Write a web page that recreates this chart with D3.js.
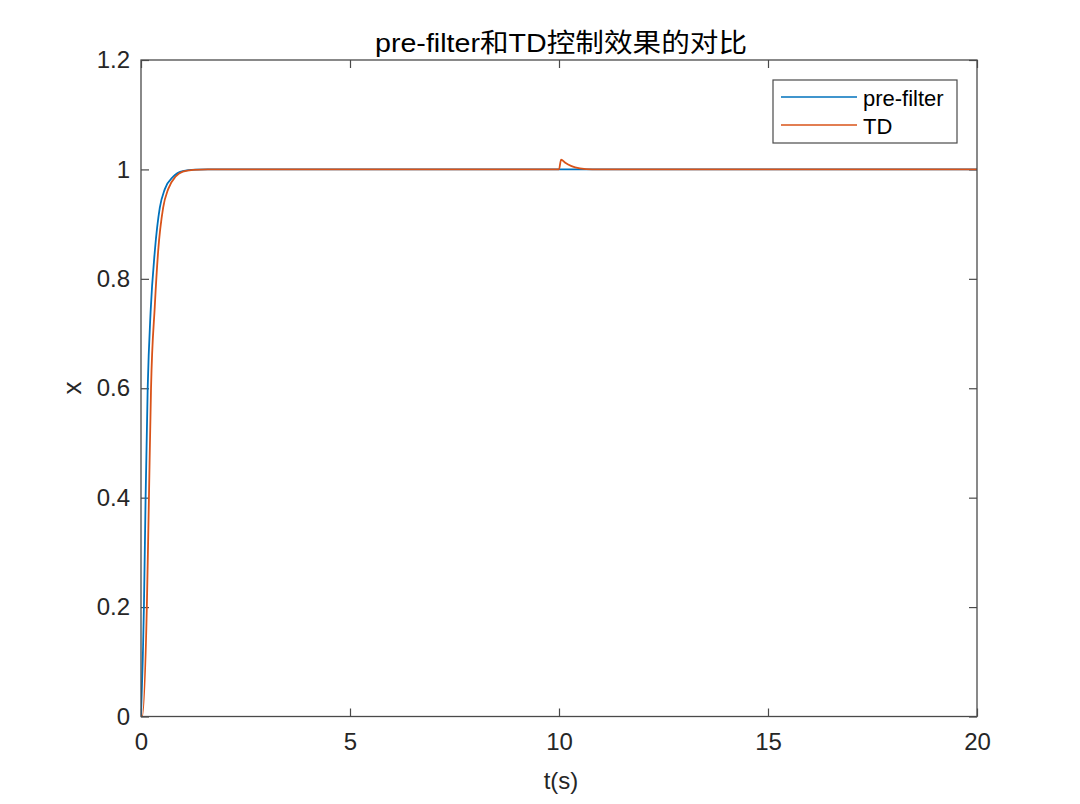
<!DOCTYPE html>
<html><head><meta charset="utf-8">
<script src="https://cdn.jsdelivr.net/npm/d3@7"></script>
<style>body{margin:0;background:#fff;} text{font-family:"Liberation Sans",Arial,sans-serif;}</style>
</head><body>
<svg id="c" width="1080" height="804"></svg>
<script>
const title = "pre-filter和TD控制效果的对比";
const xLabel = "t(s)";
const yLabel = "x";
const xTicks = [0, 5, 10, 15, 20];
const yTicks = [0, 0.2, 0.4, 0.6, 0.8, 1, 1.2];
const yTickLabels = ["0", "0.2", "0.4", "0.6", "0.8", "1", "1.2"];
const seriesNames = ["pre-filter", "TD"];
const seriesColors = ["#0072BD", "#D95319"];

const preT = [0, 0.07, 0.11, 0.16, 0.23, 0.33, 0.45, 0.57, 0.77, 1.0, 1.3, 1.6, 20];
const preX = [0, 0.2, 0.4, 0.6, 0.74, 0.85, 0.93, 0.964, 0.987, 0.997, 0.9995, 1, 1];
const tdT = [0, 0.03, 0.14, 0.19, 0.24, 0.33, 0.41, 0.53, 0.65, 0.83, 1.0, 1.25, 1.6, 10.0, 10.05, 10.15, 10.3, 10.5, 10.8, 20];
const tdX = [0, 0, 0.2, 0.4, 0.6, 0.75, 0.85, 0.93, 0.964, 0.987, 0.996, 0.999, 1, 1, 1.018, 1.012, 1.006, 1.002, 1.0, 1];

(function () {
const svg = d3.select("#c");
const L = 141, R = 977, T = 60, B = 716.5;
const x = d3.scaleLinear().domain([0, 20]).range([L, R]);
const y = d3.scaleLinear().domain([0, 1.2]).range([B, T]);
const axisColor = "#262626";
const boxColor = "#4a4a4a";
const tickLen = 8;

const g = svg.append("g");
const axB = g.append("g").attr("transform", `translate(0,${B})`)
  .call(d3.axisBottom(x).tickValues(xTicks).tickSize(-tickLen).tickPadding(16).tickFormat(d3.format("d")));
const axT = g.append("g").attr("transform", `translate(0,${T})`)
  .call(d3.axisTop(x).tickValues(xTicks).tickSize(-tickLen).tickFormat(""));
const axL = g.append("g").attr("transform", `translate(${L},0)`)
  .call(d3.axisLeft(y).tickValues(yTicks).tickSize(-tickLen).tickPadding(11).tickFormat((d, i) => yTickLabels[i]));
const axR = g.append("g").attr("transform", `translate(${R},0)`)
  .call(d3.axisRight(y).tickValues(yTicks).tickSize(-tickLen).tickFormat(""));
[axB, axT, axL, axR].forEach(a => {
  a.select(".domain").remove();
  a.selectAll("line").attr("stroke", boxColor).attr("stroke-width", 1.2);
  a.selectAll("text").attr("fill", axisColor).style("font-size", "24px").style("font-family", "'Liberation Sans',Arial,sans-serif");
});

const line = d3.line().x(d => x(d[0])).y(d => y(d[1])).curve(d3.curveMonotoneX);
const pre = preT.map((t, i) => [t, preX[i]]);
const td = tdT.map((t, i) => [t, tdX[i]]);
svg.append("clipPath").attr("id", "pc").append("rect").attr("x", L).attr("y", T).attr("width", R - L).attr("height", B - T);
svg.append("path").datum(pre).attr("d", line).attr("fill", "none").attr("stroke", seriesColors[0]).attr("stroke-width", 1.8).attr("clip-path", "url(#pc)");
svg.append("path").datum(td).attr("d", line).attr("fill", "none").attr("stroke", seriesColors[1]).attr("stroke-width", 1.8).attr("clip-path", "url(#pc)");

svg.append("rect").attr("x", L).attr("y", T).attr("width", R - L).attr("height", B - T)
  .attr("fill", "none").attr("stroke", boxColor).attr("stroke-width", 1.3);

svg.append("text").attr("x", 561).attr("y", 52).attr("text-anchor", "middle")
  .attr("fill", "#000").style("font-size", "26px")
  .attr("textLength", 372).attr("lengthAdjust", "spacingAndGlyphs")
  .style("font-family", "'Liberation Sans','Noto Sans CJK SC',sans-serif").text(title);
svg.append("text").attr("x", 561).attr("y", 789).attr("text-anchor", "middle")
  .attr("fill", axisColor).style("font-size", "24px").text(xLabel);
svg.append("text").attr("transform", `translate(81,388) rotate(-90)`).attr("text-anchor", "middle")
  .attr("fill", axisColor).style("font-size", "26px").text(yLabel);

const lg = svg.append("g");
lg.append("rect").attr("x", 773).attr("y", 80).attr("width", 184).attr("height", 63)
  .attr("fill", "#fff").attr("stroke", boxColor).attr("stroke-width", 1.2);
seriesNames.forEach((n, i) => {
  const yy = 97 + i * 28;
  lg.append("line").attr("x1", 781).attr("x2", 857).attr("y1", yy).attr("y2", yy)
    .attr("stroke", seriesColors[i]).attr("stroke-width", 1.6);
  lg.append("text").attr("x", 863).attr("y", yy + 8.5).attr("fill", "#000").style("font-size", "22px").text(n);
});
})();
</script>
</body></html>
